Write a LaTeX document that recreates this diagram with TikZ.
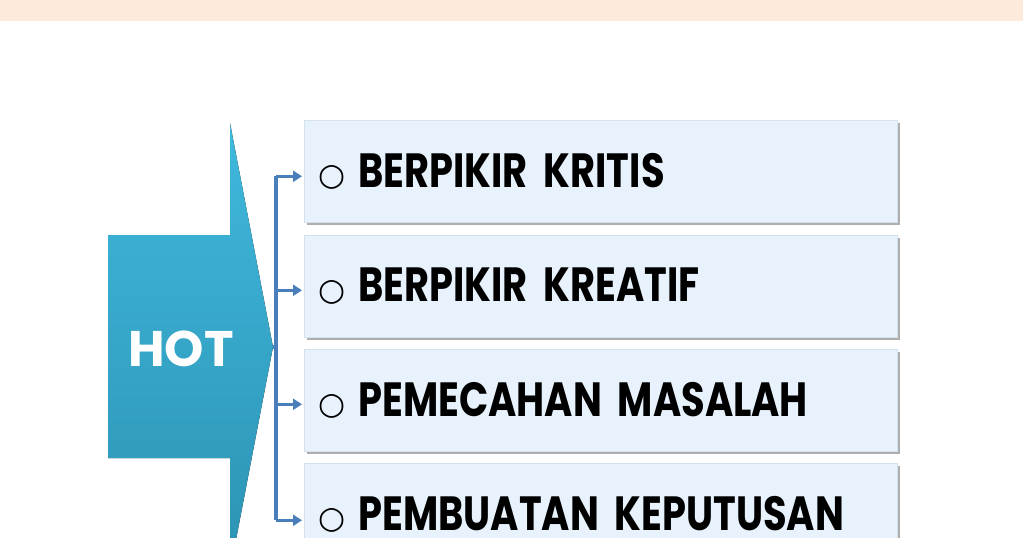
\documentclass[tikz,border=0pt]{standalone}
\usepackage{fontspec}
\newfontfamily\boxfont[FakeStretch=0.8,WordSpace=0.6]{Poppins}
\newfontfamily\hotfont{Poppins}
\newfontfamily\symfont{DejaVu Sans}
\usetikzlibrary{arrows.meta,shadows}
\definecolor{peach}{HTML}{FDEADA}
\definecolor{boxblue}{HTML}{E8F2FC}
\definecolor{boxedge}{HTML}{D5E2EE}
\definecolor{tealtop}{HTML}{3FB8DC}
\definecolor{tealbot}{HTML}{2C93B4}
\definecolor{conn}{HTML}{4A7EBB}
\tikzset{
  itembox/.style={fill=boxblue, draw=boxedge, line width=0.6pt, anchor=north west,
    minimum width=593pt, minimum height=102pt, inner xsep=14pt, inner ysep=0pt,
    text width=565pt, align=left,
    drop shadow={shadow xshift=2.5pt, shadow yshift=-2.5pt, fill=black!45, opacity=0.7}},
  itemtext/.style={font=\boxfont\bfseries\fontsize{48}{50}\selectfont},
  connline/.style={draw=conn, line width=3.4pt},
  connarrow/.style={connline, -{Triangle[length=9pt,width=11pt]}},
}
\newcommand{\bul}{{\symfont\fontsize{31}{31}\selectfont\raisebox{1.5pt}{○}}\hspace{13pt}}
\begin{document}
\begin{tikzpicture}[x=1pt,y=-1pt]
\useasboundingbox (0,0) rectangle (1023,538);
\fill[white] (0,0) rectangle (1023,538);
\fill[peach] (0,0) rectangle (1023,21);
% HOT arrow shape
\fill[top color=tealtop, bottom color=tealbot]
  (108,235) -- (230,235) -- (230,123) -- (273,347) -- (230,571) -- (230,458) -- (108,458) -- cycle;
\node[text=white, font=\hotfont\bfseries\fontsize{50}{50}\selectfont] (hot) at (181,349) {HOT};
\coordinate (tip) at (273,347);
% boxes
\node[itembox, itemtext] (b1) at (304,120) {\bul BERPIKIR KRITIS};
\node[itembox, itemtext] (b2) at (304,235) {\bul BERPIKIR KREATIF};
\node[itembox, itemtext] (b3) at (304,349) {\bul PEMECAHAN MASALAH};
\node[itembox, itemtext] (b4) at (304,463) {\bul PEMBUATAN KEPUTUSAN};
% connectors
\coordinate (bus) at (276,347);
\draw[connline] (tip) -- (bus);
\draw[connline] ([yshift=-5pt]b1.west -| bus) -- ([yshift=-6pt]b4.west -| bus);
\draw[connarrow] ([yshift=-5pt]b1.west -| bus) -- ([xshift=-2pt,yshift=-5pt]b1.west);
\draw[connarrow] ([yshift=-4pt]b2.west -| bus) -- ([xshift=-2pt,yshift=-4pt]b2.west);
\draw[connarrow] ([yshift=-4pt]b3.west -| bus) -- ([xshift=-2pt,yshift=-4pt]b3.west);
\draw[connarrow] ([yshift=-6pt]b4.west -| bus) -- ([xshift=-2pt,yshift=-6pt]b4.west);
\end{tikzpicture}
\end{document}
